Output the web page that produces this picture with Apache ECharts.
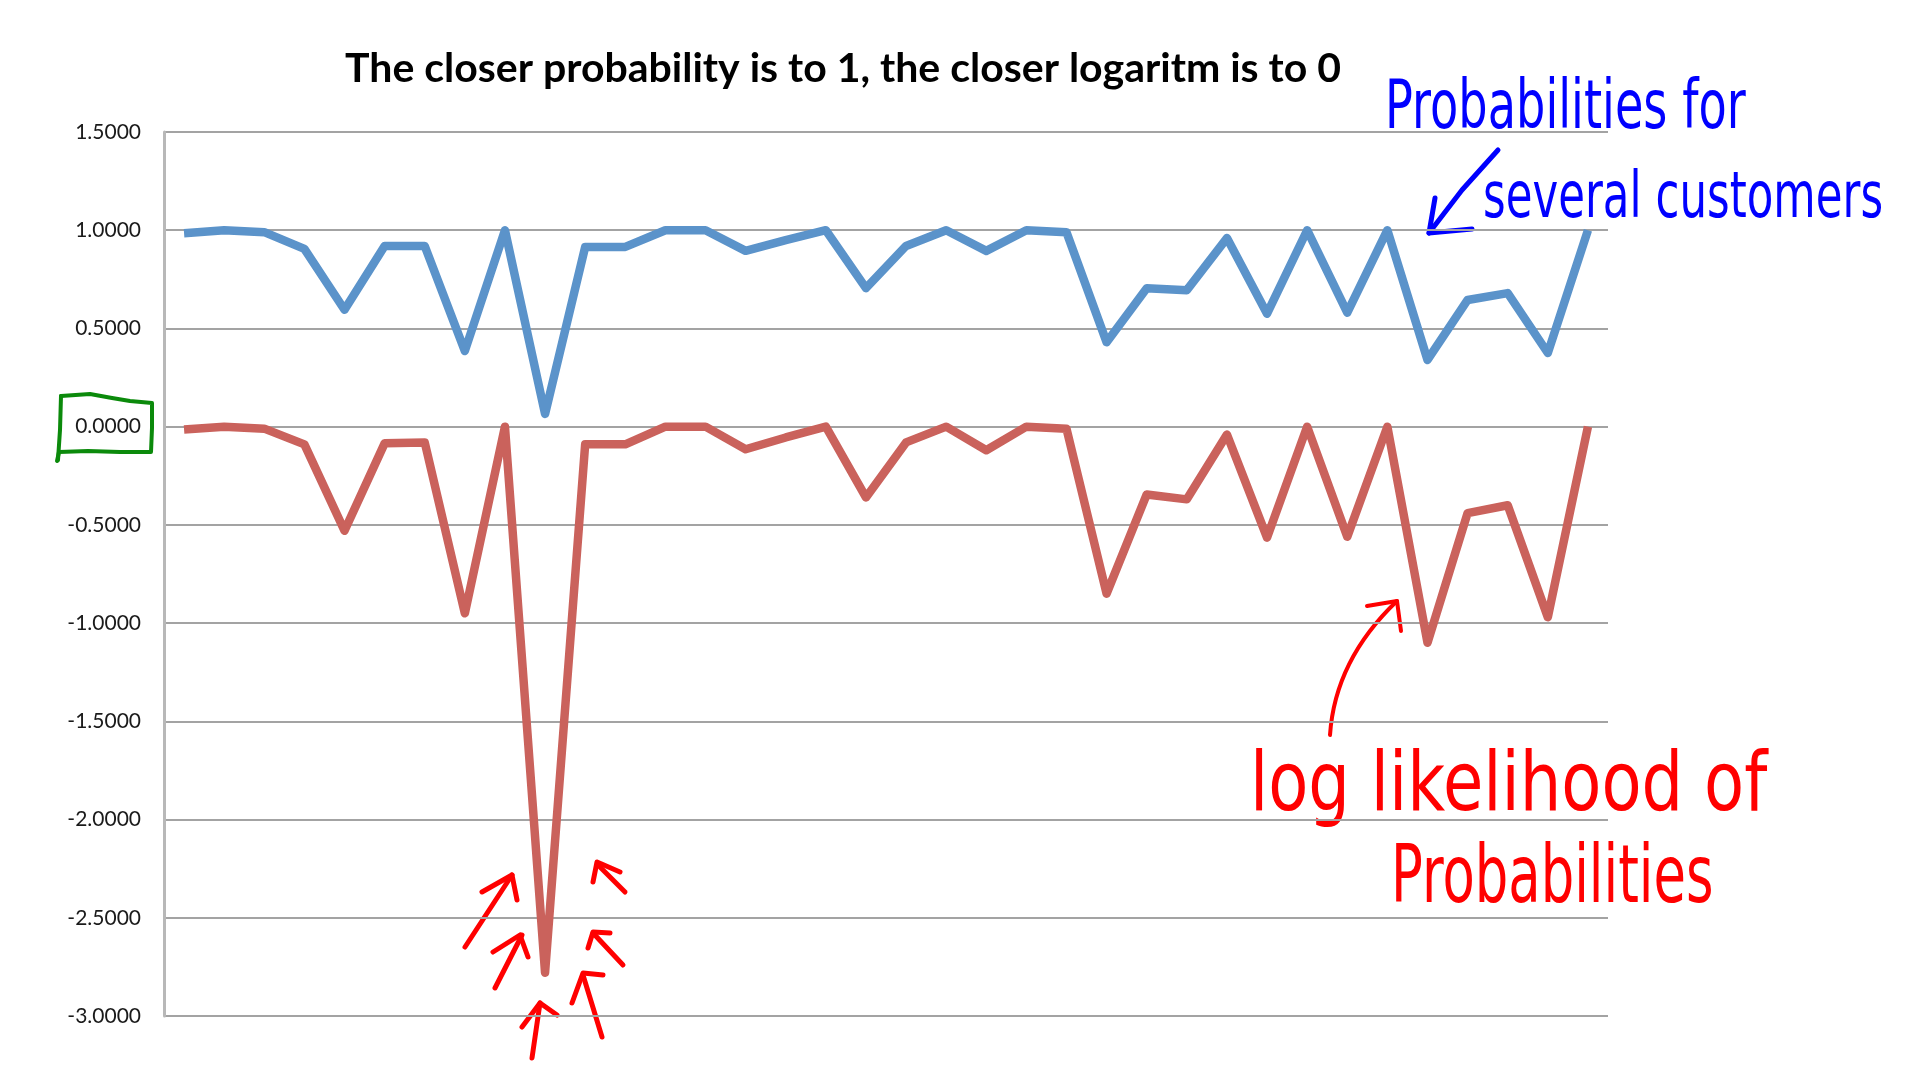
<!DOCTYPE html>
<html>
<head>
<meta charset="utf-8">
<script src="https://cdn.jsdelivr.net/npm/echarts@6/dist/echarts.min.js"></script>
<style>
html,body{margin:0;padding:0;background:#fff;}
#chart{width:1922px;height:1068px;}
</style>
</head>
<body>
<div id="chart"></div>
<script>
const categories = ['1','2','3','4','5','6','7','8','9','10','11','12','13','14','15','16','17','18','19','20','21','22','23','24','25','26','27','28','29','30','31','32','33','34','35','36'];
const probabilities = [0.985, 1.0, 0.99, 0.905, 0.595, 0.92, 0.92, 0.385, 1.0, 0.065, 0.915, 0.915, 1.0, 1.0, 0.895, 0.95, 1.0, 0.705, 0.92, 1.0, 0.895, 1.0, 0.99, 0.43, 0.705, 0.695, 0.96, 0.575, 1.0, 0.58, 1.0, 0.34, 0.645, 0.68, 0.375, 1.0];
const logLikelihood = [-0.015, 0.0, -0.01, -0.09, -0.53, -0.085, -0.08, -0.95, 0.0, -2.78, -0.09, -0.09, 0.0, 0.0, -0.115, -0.055, 0.0, -0.36, -0.08, 0.0, -0.12, 0.0, -0.01, -0.85, -0.345, -0.37, -0.04, -0.565, 0.0, -0.56, 0.0, -1.1, -0.44, -0.4, -0.97, 0.0];
const titleText = 'The closer probability is to 1, the closer logaritm is to 0';
const yMin = -3, yMax = 1.5, yStep = 0.5;

const chart = echarts.init(document.getElementById('chart'), null, {renderer: 'canvas'});

function arrow(shaft, head, color, w) {
  return [
    {type: 'polyline', shape: {points: shaft}, style: {stroke: color, lineWidth: w, fill: null, lineCap: 'round', lineJoin: 'round'}},
    {type: 'polyline', shape: {points: head}, style: {stroke: color, lineWidth: w, fill: null, lineCap: 'round', lineJoin: 'round'}}
  ];
}
const RED = '#ff0000', BLUE = '#0000ff', GREEN = '#0b8a0b';
const handFont = "'DejaVu Sans', sans-serif";

const graphics = [].concat(
  // green box around 0.0000
  [{type: 'polyline', shape: {points: [[61,396],[90,394],[112,398],[130,401],[152,403],[152,428],[151,452],[120,452],[88,451],[59,452],[57,461]]}, style: {stroke: GREEN, lineWidth: 4, fill: null, lineJoin: 'round', lineCap: 'round'}},
   {type: 'polyline', shape: {points: [[61,396],[60,430],[58,460]]}, style: {stroke: GREEN, lineWidth: 4, fill: null, lineCap: 'round'}}],
  // blue annotation
  [{type: 'text', x: 1385, y: 110, scaleX: 0.68, style: {text: 'Probabilities for', font: "normal 68px " + handFont, fill: BLUE, textAlign: 'left', textVerticalAlign: 'middle'}},
   {type: 'text', x: 1483, y: 200, scaleX: 0.68, style: {text: 'several customers', font: "normal 64px " + handFont, fill: BLUE, textAlign: 'left', textVerticalAlign: 'middle'}}],
  arrow([[1498,150],[1462,190],[1429,233]], [[1435,198],[1429,233],[1472,229]], BLUE, 5),
  // red annotation
  [{type: 'text', x: 1250, y: 789, scaleX: 0.8, style: {text: 'log likelihood of', font: "normal 82px " + handFont, fill: RED, textAlign: 'left', textVerticalAlign: 'middle'}},
   {type: 'text', x: 1391, y: 881, scaleX: 0.66, style: {text: 'Probabilities', font: "normal 80px " + handFont, fill: RED, textAlign: 'left', textVerticalAlign: 'middle'}},
   {type: 'bezierCurve', shape: {x1: 1330, y1: 735, x2: 1397, y2: 601, cpx1: 1335, cpy1: 660}, style: {stroke: RED, lineWidth: 4, fill: null, lineCap: 'round'}},
   {type: 'polyline', shape: {points: [[1367,606],[1397,601],[1401,631]]}, style: {stroke: RED, lineWidth: 4, fill: null, lineCap: 'round', lineJoin: 'round'}}],
  // small arrows around the spike
  arrow([[465,947],[512,875]], [[482,892],[512,875],[517,900]], RED, 5),
  arrow([[495,988],[522,935]], [[493,952],[520,935],[528,957]], RED, 5),
  arrow([[532,1058],[540,1003]], [[522,1027],[540,1003],[557,1015]], RED, 5),
  arrow([[602,1037],[583,975]], [[572,1003],[583,973],[603,975]], RED, 5),
  arrow([[623,965],[593,933]], [[588,948],[593,932],[610,933]], RED, 5),
  arrow([[625,892],[598,865]], [[593,882],[597,862],[620,872]], RED, 5)
);

chart.setOption({
  backgroundColor: '#ffffff',
  animation: false,
  title: {
    text: titleText,
    left: 838,
    top: 43,
    textAlign: 'center',
    textStyle: {fontFamily: "Lato, 'Liberation Sans', sans-serif", fontWeight: 'bold', fontSize: 41, color: '#000'}
  },
  grid: {left: 164, right: 314, top: 132, bottom: 52, containLabel: false},
  xAxis: {
    type: 'category',
    data: categories,
    boundaryGap: true,
    axisLine: {show: false},
    axisTick: {show: false},
    axisLabel: {show: false},
    splitLine: {show: false}
  },
  yAxis: {
    type: 'value',
    min: yMin,
    max: yMax,
    interval: yStep,
    axisLine: {show: true, lineStyle: {color: '#b8b8b8', width: 3}},
    axisTick: {show: false},
    axisLabel: {
      formatter: v => v.toFixed(4),
      fontFamily: "Lato, 'Liberation Sans', sans-serif",
      fontSize: 21,
      color: '#1a1a1a',
      margin: 23
    },
    splitLine: {show: true, lineStyle: {color: '#a3a3a3', width: 2}}
  },
  series: [
    {name: 'Probabilities', type: 'line', data: probabilities, symbol: 'none', smooth: false,
     lineStyle: {color: '#5b93ca', width: 8.5, join: 'round'}, itemStyle: {color: '#5b93ca'}},
    {name: 'Log likelihood', type: 'line', data: logLikelihood, symbol: 'none', smooth: false,
     lineStyle: {color: '#ca625c', width: 8.5, join: 'round'}, itemStyle: {color: '#ca625c'}}
  ],
  graphic: graphics
});
</script>
</body>
</html>
